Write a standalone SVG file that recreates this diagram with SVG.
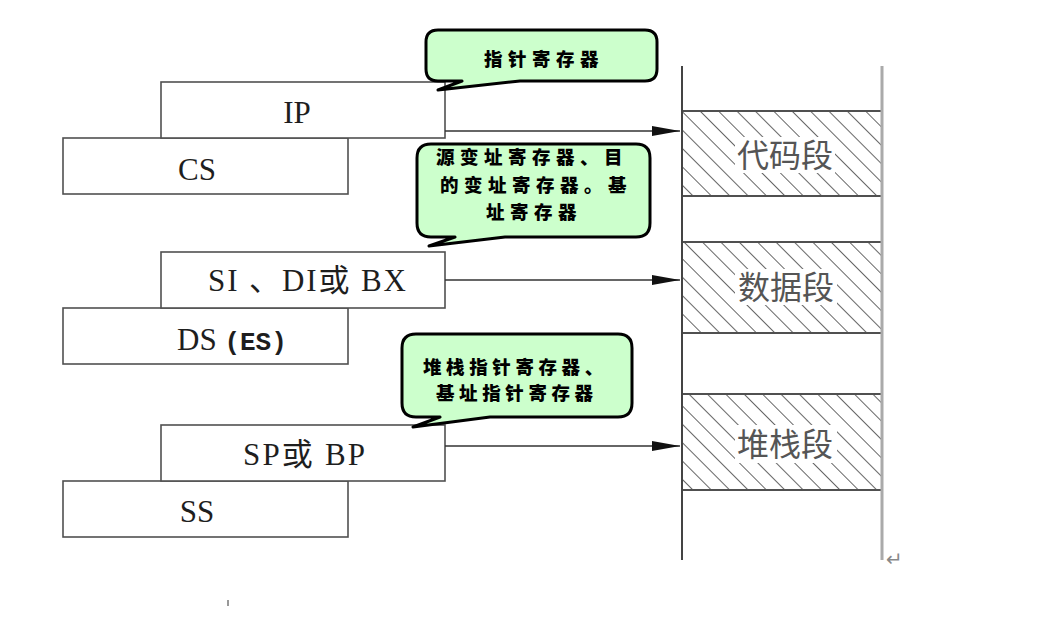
<svg xmlns="http://www.w3.org/2000/svg" width="1037" height="636" viewBox="0 0 1037 636">
<style>
.reg { fill: #ffffff; stroke: #505050; stroke-width: 1.6; }
.regtxt { font-family: "Liberation Serif", "Noto Sans CJK SC", serif; font-size: 31px; fill: #1e1e1e; }
.mono { font-family: "Liberation Mono", monospace; font-weight: 700; font-size: 26px; }
.bubble { fill: #ccffcc; stroke: #000000; stroke-width: 3; stroke-linejoin: round; }
.btxt { font-family: "Noto Sans CJK SC", sans-serif; font-size: 18.5px; font-weight: 900; fill: #000000; letter-spacing: 5.5px; }
.btxt3 { letter-spacing: 4.6px; }
.hatch { fill: url(#hatch); }
.knock { fill: #ffffff; }
.segtxt { font-family: "Noto Sans CJK SC", sans-serif; font-size: 32px; fill: #555555; }
.hline { stroke: #505050; stroke-width: 2; }
.conn { stroke: #333333; stroke-width: 1.6; fill: none; marker-end: url(#arrow); }
</style>
<defs>
<pattern id="hatch" patternUnits="userSpaceOnUse" width="13" height="13" patternTransform="rotate(-45)">
<line x1="0" y1="-1" x2="0" y2="14" stroke="#333333" stroke-width="1.5"/>
</pattern>
<marker id="arrow" markerUnits="userSpaceOnUse" viewBox="0 0 28 10" refX="28" refY="5" markerWidth="28" markerHeight="10" orient="auto">
<path d="M0,0 L28,5 L0,10 Z" fill="#111111"/>
</marker>
</defs>
<rect width="1037" height="636" fill="#ffffff"/>

<g id="memory">
<rect class="hatch" x="682" y="111" width="200" height="85"/>
<rect class="hatch" x="682" y="242" width="200" height="91"/>
<rect class="hatch" x="682" y="394" width="200" height="96"/>
<rect class="knock" x="735" y="137" width="100" height="36"/>
<rect class="knock" x="735" y="269" width="102" height="36"/>
<rect class="knock" x="735" y="425" width="102" height="38"/>
<text class="segtxt" x="785" y="167" text-anchor="middle">代码段</text>
<text class="segtxt" x="786" y="299" text-anchor="middle">数据段</text>
<text class="segtxt" x="785" y="456" text-anchor="middle">堆栈段</text>
<line class="hline" x1="682" y1="111" x2="882" y2="111"/>
<line class="hline" x1="682" y1="196" x2="882" y2="196"/>
<line class="hline" x1="682" y1="242" x2="882" y2="242"/>
<line class="hline" x1="682" y1="333" x2="882" y2="333"/>
<line class="hline" x1="682" y1="394" x2="882" y2="394"/>
<line class="hline" x1="682" y1="490" x2="882" y2="490"/>
<line x1="682" y1="66" x2="682" y2="560" stroke="#444444" stroke-width="2"/>
<line x1="882" y1="66" x2="882" y2="560" stroke="#aaaaaa" stroke-width="3"/>
<text x="886" y="566" font-family="DejaVu Sans, sans-serif" font-size="20" fill="#888888">↵</text>
</g>

<g id="cs">
<rect class="reg" x="63" y="138" width="285" height="56"/>
<text class="regtxt" x="197" y="180" text-anchor="middle">CS</text>
</g>
<g id="ip">
<rect class="reg" x="161" y="82" width="284" height="56"/>
<text class="regtxt" x="297" y="123" text-anchor="middle">IP</text>
</g>

<g id="ds">
<rect class="reg" x="63" y="308" width="285" height="56"/>
<text class="regtxt" x="177" y="350">DS <tspan class="mono">(ES)</tspan></text>
</g>
<g id="si">
<rect class="reg" x="161" y="252" width="284" height="56"/>
<text class="regtxt" x="208" y="291" textLength="198">SI 、DI或 BX</text>
</g>

<g id="ss">
<rect class="reg" x="63" y="481" width="285" height="56"/>
<text class="regtxt" x="197" y="522" text-anchor="middle">SS</text>
</g>
<g id="sp">
<rect class="reg" x="161" y="425" width="284" height="56"/>
<text class="regtxt" x="243" y="465" textLength="122">SP或 BP</text>
</g>

<g id="connectors">
<line class="conn" x1="445" y1="131" x2="680" y2="131"/>
<line class="conn" x1="445" y1="280" x2="680" y2="280"/>
<line class="conn" x1="445" y1="446" x2="680" y2="446"/>
</g>

<g id="callout1">
<path class="bubble" d="M438 30 H645 Q657 30 657 42 V69 Q657 81 645 81 H520 L438 90 L462 81 H438 Q426 81 426 69 V42 Q426 30 438 30 Z"/>
<text class="btxt" x="484" y="66">指针寄存器</text>
</g>

<g id="callout2">
<path class="bubble" d="M431 144 H636 Q650 144 650 158 V223 Q650 237 636 237 H505 L429 246 L455 237 H431 Q417 237 417 223 V158 Q417 144 431 144 Z"/>
<text class="btxt" x="436" y="164">源变址寄存器、目</text>
<text class="btxt" x="440" y="192">的变址寄存器。基</text>
<text class="btxt" x="486" y="219">址寄存器</text>
</g>

<g id="callout3">
<path class="bubble" d="M416 334 H618 Q632 334 632 348 V403 Q632 417 618 417 H490 L413 427 L440 417 H416 Q402 417 402 403 V348 Q402 334 416 334 Z"/>
<text class="btxt btxt3" x="423" y="374">堆栈指针寄存器、</text>
<text class="btxt btxt3" x="436" y="400">基址指针寄存器</text>
</g>

<line x1="228" y1="600" x2="228" y2="606" stroke="#777777" stroke-width="1.5"/>
</svg>
